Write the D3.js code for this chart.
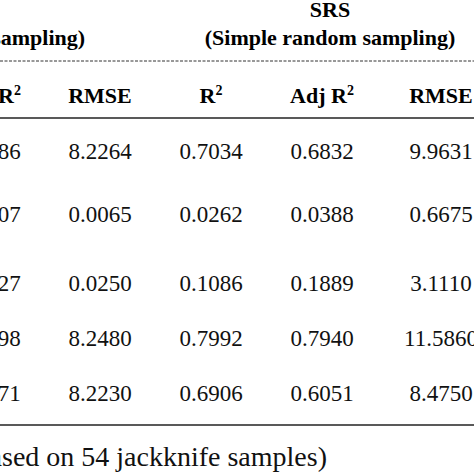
<!DOCTYPE html>
<html><head><meta charset="utf-8">
<script src="https://cdn.jsdelivr.net/npm/d3@7"></script>
<style>body{margin:0;background:#fff}</style>
</head><body><div class="chart"></div>
<script>
// columns: first one is mostly cut off on the left
var columns = ["Adj R", "RMSE", "R", "Adj R", "RMSE"];
var squared = [true, false, true, true, false];
var colCenters = [-11, 100, 211, 322, 441];
var rows = [
  ["0.6886", "8.2264", "0.7034", "0.6832", "9.9631"],
  ["0.0107", "0.0065", "0.0262", "0.0388", "0.6675"],
  ["0.0327", "0.0250", "0.1086", "0.1889", "3.1110"],
  ["0.7998", "8.2480", "0.7992", "0.7940", "11.5860"],
  ["0.6771", "8.2230", "0.6906", "0.6051", "8.4750"]
];
var rowBaselines = [159, 222, 291, 346, 401];
var groups = [
  { name: "RSS", sub: "(Ranked set sampling)", x: -20 },
  { name: "SRS", sub: "(Simple random sampling)", x: 330 }
];
var footnote = "(Values based on 54 jackknife samples)";
var serif = "'Times New Roman', 'Liberation Serif', 'DejaVu Serif', serif";

var svg = d3.select(".chart").append("svg").attr("width", 474).attr("height", 474)
  .attr("font-family", serif);
var x = d3.scaleOrdinal().domain(d3.range(columns.length)).range(colCenters);
var y = d3.scaleOrdinal().domain(d3.range(rows.length)).range(rowBaselines);

var g = svg.selectAll("g.grp").data(groups).enter().append("g")
  .attr("font-weight", "bold").attr("font-size", 22).attr("text-anchor", "middle");
g.append("text").attr("x", function(d) { return d.x; }).attr("y", 17).text(function(d) { return d.name; });
g.append("text").attr("x", function(d) { return d.x; }).attr("y", 45).text(function(d) { return d.sub; });

svg.append("line").attr("x1", 0).attr("x2", 474).attr("y1", 61).attr("y2", 61)
  .attr("stroke", "#333").attr("stroke-dasharray", "3,1.5");

var hdr = svg.selectAll("text.hdr").data(columns).enter().append("text")
  .attr("x", function(d, i) { return x(i); }).attr("y", 103)
  .attr("text-anchor", "middle").attr("font-weight", "bold").attr("font-size", 22);
hdr.append("tspan").text(function(d) { return d; });
hdr.filter(function(d, i) { return squared[i]; }).append("tspan")
  .attr("dy", -8).attr("font-size", 14).text("2");

svg.append("line").attr("x1", 0).attr("x2", 474).attr("y1", 118).attr("y2", 118)
  .attr("stroke", "#222").attr("stroke-width", 1.3);

svg.selectAll("g.row").data(rows).enter().append("g")
  .each(function(r, ri) {
    d3.select(this).selectAll("text").data(r).enter().append("text")
      .attr("x", function(d, i) { return x(i); }).attr("y", y(ri))
      .attr("text-anchor", "middle").attr("font-size", 23).attr("fill", "#111")
      .text(function(d) { return d; });
  });

svg.append("line").attr("x1", 0).attr("x2", 474).attr("y1", 425).attr("y2", 425)
  .attr("stroke", "#222").attr("stroke-width", 1.3);

svg.append("text").attr("x", 327).attr("y", 466).attr("text-anchor", "end")
  .attr("font-size", 28).attr("fill", "#111").text(footnote);
</script></body></html>
